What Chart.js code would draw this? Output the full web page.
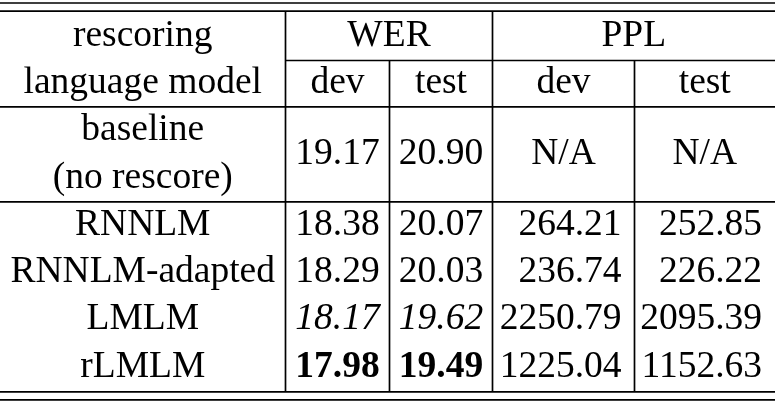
<!DOCTYPE html>
<html>
<head>
<meta charset="utf-8">
<script src="https://cdn.jsdelivr.net/npm/chart.js@4/dist/chart.umd.min.js"></script>
<style>
    body { margin: 0; background: #fff; }
    #table-wrap { width: 779px; height: 405px; }
</style>
</head>
<body>
<div id="table-wrap"><canvas id="resultsTable" width="779" height="405"></canvas></div>
<script>
// table contents
const models = [['baseline', '(no rescore)'], ['RNNLM'], ['RNNLM-adapted'], ['LMLM'], ['rLMLM']];
const werDev = [19.17, 18.38, 18.29, 18.17, 17.98];
const werTest = [20.90, 20.07, 20.03, 19.62, 19.49];
const pplDev = [null, 264.21, 236.74, 2250.79, 1225.04];
const pplTest = [null, 252.85, 226.22, 2095.39, 1152.63];
const groupHeaders = ['WER', 'PPL'];
const subHeaders = ['dev', 'test', 'dev', 'test'];
const firstHeader = ['rescoring', 'language model'];

// layout: x in pixels, y in text-line units (0 = first header line)
const colEdges = [0, 285.5, 389.5, 492.5, 634.5, 775];
const rowLine = [2.5, 4, 5, 6, 7];
const FONT = '"Liberation Serif", "Times New Roman", serif';
const FONT_SIZE = 37.5;

function fmt(v) {
    return v === null ? 'N/A' : v.toFixed(2);
}

// best WER in bold, second best in italic
function emphasis(values, i) {
    const sorted = [...values].sort((a, b) => a - b);
    if (values[i] === sorted[0]) return 'bold';
    if (values[i] === sorted[1]) return 'italic';
    return 'normal';
}

const mid = (a, b) => (colEdges[a] + colEdges[b]) / 2;

function cellPoints(values, col, align, withEmphasis) {
    return values.map((v, i) => ({
        x: align === 'right' && v !== null ? colEdges[col + 1] - 13 : mid(col, col + 1),
        y: rowLine[i],
        text: fmt(v),
        align: align === 'right' && v !== null ? 'right' : 'center',
        style: withEmphasis ? emphasis(values, i) : 'normal'
    }));
}

const labelPoints = [];
firstHeader.forEach((t, i) => labelPoints.push({ x: mid(0, 1), y: i, text: t, align: 'center', style: 'normal' }));
models.forEach((lines, i) => {
    lines.forEach((t, k) => {
        const y = lines.length > 1 ? rowLine[i] - 0.5 + k : rowLine[i];
        labelPoints.push({ x: mid(0, 1), y: y, text: t, align: 'center', style: 'normal' });
    });
});
groupHeaders.forEach((t, i) => labelPoints.push({ x: mid(1 + 2 * i, 3 + 2 * i), y: 0, text: t, align: 'center', style: 'normal' }));
subHeaders.forEach((t, i) => labelPoints.push({ x: mid(i + 1, i + 2), y: 1, text: t, align: 'center', style: 'normal' }));

const datasets = [
    { label: 'labels', data: labelPoints },
    { label: 'WER dev', data: cellPoints(werDev, 1, 'center', true) },
    { label: 'WER test', data: cellPoints(werTest, 2, 'center', true) },
    { label: 'PPL dev', data: cellPoints(pplDev, 3, 'right', false) },
    { label: 'PPL test', data: cellPoints(pplTest, 4, 'right', false) }
].map(ds => Object.assign(ds, { pointRadius: 0, pointHoverRadius: 0 }));

// rules in line units
const fullRules = [-0.91, -0.74, 1.29, 3.30, 7.32, 7.49];
const partialRules = [{ y: 0.307, from: 1, to: 5 }];
const verticals = [
    { col: 1, top: -0.74, bottom: 7.32 },
    { col: 2, top: 0.307, bottom: 7.32 },
    { col: 3, top: -0.74, bottom: 7.32 },
    { col: 4, top: 0.307, bottom: 7.32 }
];

const tablePlugin = {
    id: 'tablePlugin',
    beforeDatasetsDraw(chart) {
        const ctx = chart.ctx;
        const xs = chart.scales.x;
        const ys = chart.scales.y;
        ctx.save();
        ctx.strokeStyle = '#000';
        ctx.lineWidth = 1.7;
        ctx.beginPath();
        fullRules.forEach(r => {
            const y = ys.getPixelForValue(r);
            ctx.moveTo(xs.getPixelForValue(colEdges[0]), y);
            ctx.lineTo(xs.getPixelForValue(colEdges[5]), y);
        });
        partialRules.forEach(r => {
            const y = ys.getPixelForValue(r.y);
            ctx.moveTo(xs.getPixelForValue(colEdges[r.from]), y);
            ctx.lineTo(xs.getPixelForValue(colEdges[r.to]), y);
        });
        verticals.forEach(v => {
            const x = xs.getPixelForValue(colEdges[v.col]);
            ctx.moveTo(x, ys.getPixelForValue(v.top));
            ctx.lineTo(x, ys.getPixelForValue(v.bottom));
        });
        ctx.stroke();
        ctx.restore();
    },
    afterDatasetsDraw(chart) {
        const ctx = chart.ctx;
        ctx.save();
        ctx.fillStyle = '#000';
        ctx.textBaseline = 'alphabetic';
        chart.data.datasets.forEach((ds, d) => {
            const meta = chart.getDatasetMeta(d);
            meta.data.forEach((pt, i) => {
                const cell = ds.data[i];
                ctx.font = `${cell.style} ${FONT_SIZE}px ${FONT}`;
                ctx.textAlign = cell.align;
                ctx.fillText(cell.text, pt.x, pt.y);
            });
        });
        ctx.restore();
    }
};

const ctx = document.getElementById('resultsTable').getContext('2d');
new Chart(ctx, {
    type: 'scatter',
    data: { datasets: datasets },
    options: {
        responsive: false,
        animation: false,
        events: [],
        layout: { padding: 0 },
        plugins: {
            legend: { display: false },
            tooltip: { enabled: false }
        },
        scales: {
            x: { type: 'linear', min: 0, max: 779, display: false },
            y: { type: 'linear', min: -46 / 47.24, max: (405 - 46) / 47.24, reverse: true, display: false }
        }
    },
    plugins: [tablePlugin]
});
</script>
</body>
</html>
